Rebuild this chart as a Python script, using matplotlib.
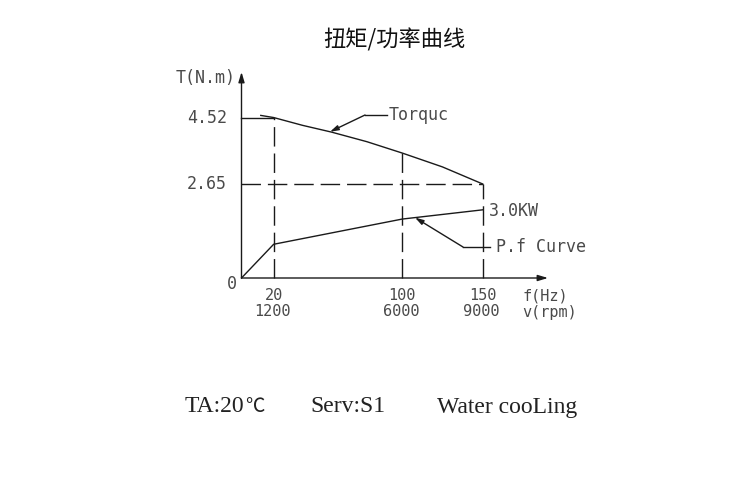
import matplotlib
matplotlib.use("Agg")
import matplotlib.pyplot as plt
import numpy as np

# ---------------- data ----------------
title = "扭矩/功率曲线"
freq_ticks = [20, 100, 150]            # Hz
rpm_ticks = ["1200", "6000", "9000"]   # rpm
torque_marks = [4.52, 2.65]            # N.m
torque_hz = [12, 20, 38, 56, 78, 100, 125, 150]
torque_nm = [4.58, 4.52, 4.30, 4.11, 3.84, 3.52, 3.13, 2.65]
power_hz = [0, 20, 100, 150]
power_drawn = [0, 0.95, 1.66, 1.92]    # power curve drawn in torque-axis units
power_label = "3.0KW"
torque_label = "Torquc"
power_curve_label = "P.f Curve"
footer = ["TA:20℃", "Serv:S1", "Water cooLing"]

# ---------------- layout helpers (reference pixel -> data) ----------------
W, H = 749, 495
X0, SX = 241.5, 1.607
Y0, SY = 278.0, 35.5
def X(px): return (px - X0) / SX
def Y(py): return (Y0 - py) / SY

fig = plt.figure(figsize=(W / 100, H / 100), dpi=100)
ax = fig.add_axes([0, 0, 1, 1])
ax.set_xlim(X(0), X(W))
ax.set_ylim(Y(H), Y(0))
ax.axis("off")

LC = "#1a1a1a"
TC = "#4a4a4a"
LW = 1.0
dash = (0, (14, 5))
cad = dict(family="DejaVu Sans Mono", fontsize=12, color=TC)
cad_s = dict(family="DejaVu Sans Mono", fontsize=11, color=TC)

# axes with arrows
ax.annotate("", xy=(0, Y(72)), xytext=(0, 0),
            arrowprops=dict(arrowstyle="-|>,head_length=0.6,head_width=0.18", color=LC, lw=LW,
                            shrinkA=0, shrinkB=0))
ax.annotate("", xy=(X(548), 0), xytext=(0, 0),
            arrowprops=dict(arrowstyle="-|>,head_length=0.6,head_width=0.18", color=LC, lw=LW,
                            shrinkA=0, shrinkB=0))

# reference lines
t_at = lambda f: np.interp(f, torque_hz, torque_nm)
ax.plot([0, freq_ticks[0]], [torque_marks[0]] * 2, color=LC, lw=LW)
ax.plot([freq_ticks[0]] * 2, [0, torque_marks[0]], color=LC, lw=LW, ls=dash)
ax.plot([freq_ticks[1]] * 2, [0, t_at(freq_ticks[1])], color=LC, lw=LW, ls=dash)
ax.plot([0, freq_ticks[2]], [torque_marks[1]] * 2, color=LC, lw=LW, ls=dash)
ax.plot([freq_ticks[2]] * 2, [0, torque_marks[1]], color=LC, lw=LW, ls=dash)

# curves
ax.plot(torque_hz, torque_nm, color=LC, lw=LW)
ax.plot(power_hz, power_drawn, color=LC, lw=LW)

# torque leader
tip_f = X(330)
ax.plot([X(365), X(387)], [Y(115)] * 2, color=LC, lw=LW)
ax.annotate("", xy=(tip_f, t_at(tip_f)), xytext=(X(365), Y(115)),
            arrowprops=dict(arrowstyle="-|>,head_length=0.5,head_width=0.15", color=LC, lw=LW,
                            shrinkA=0, shrinkB=0))
ax.text(X(389), Y(115), torque_label, ha="left", va="center", **cad)

# power leader
tip_p = X(415)
ax.plot([X(463), X(490)], [Y(247)] * 2, color=LC, lw=LW)
ax.annotate("", xy=(tip_p, np.interp(tip_p, power_hz, power_drawn)), xytext=(X(463), Y(247)),
            arrowprops=dict(arrowstyle="-|>,head_length=0.5,head_width=0.15", color=LC, lw=LW,
                            shrinkA=0, shrinkB=0))
ax.text(X(496), Y(247), power_curve_label, ha="left", va="center", **cad)
ax.text(X(489), Y(211), power_label, ha="left", va="center", **cad)

# axis labels
ax.text(X(236), Y(78), "T(N.m)", ha="right", va="center", **cad)
for v in torque_marks:
    ax.text(X(227), v, f"{v:.2f}", ha="right", va="center", **cad)
ax.text(X(232), Y(284), "0", ha="center", va="center", **cad)
for f, r in zip(freq_ticks, rpm_ticks):
    ax.text(f, Y(295), str(f), ha="center", va="center", **cad_s)
    ax.text(f - 0.8, Y(311), r, ha="center", va="center", **cad_s)
ax.text(X(523), Y(296), "f(Hz)", ha="left", va="center", **cad_s)
ax.text(X(522), Y(312), "v(rpm)", ha="left", va="center", **cad_s)

# title
fig.text(394 / W, 1 - 40 / H, title, ha="center", va="center",
         family=["Noto Sans CJK SC", "DejaVu Sans"], fontsize=16, color="#111")

# footer
fam = ["Liberation Serif", "DejaVu Serif", "Noto Sans CJK SC"]
yb = 1 - 407 / H
first = footer[0]
t0 = fig.text(185 / W, yb, first[:-1], ha="left", va="center",
              family=fam, fontsize=17, color="#222")
ax.annotate(first[-1], xy=(1, 0.5), xycoords=t0, xytext=(0.5, 0), textcoords="offset points",
            ha="left", va="center", family=["Noto Sans CJK SC", "DejaVu Sans"],
            fontweight="light", fontsize=14, color="#222")
for txt, px in zip(footer[1:], [310, 437]):
    fig.text(px / W, yb, txt, ha="left", va="center",
             family=fam, fontsize=17, color="#222")

fig.savefig("out.png", dpi=100, facecolor="white")
